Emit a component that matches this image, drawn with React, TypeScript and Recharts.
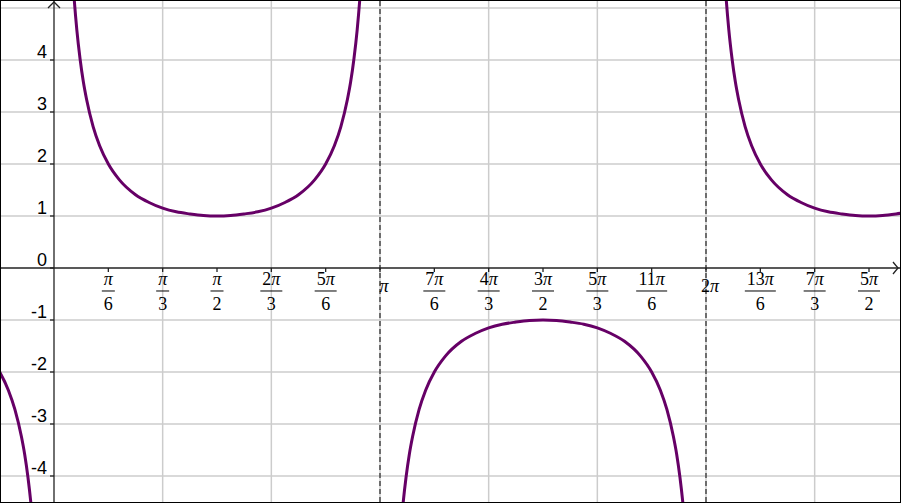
import {
  LineChart, Line, XAxis, YAxis, ReferenceLine, ReferenceDot,
} from "recharts";

document.body.style.margin = "0";

// x values are in multiples of π
const gridX = [1 / 3, 2 / 3, 1, 4 / 3, 5 / 3, 2, 7 / 3];
const gridY = [-4, -3, -2, -1, 1, 2, 3, 4, 5];

const xTicks = [1 / 6, 1 / 3, 1 / 2, 2 / 3, 5 / 6, 1, 7 / 6, 4 / 3, 3 / 2, 5 / 3, 11 / 6, 2, 13 / 6, 7 / 3, 5 / 2];
const tickNum = ["π", "π", "π", "2π", "5π", "π", "7π", "4π", "3π", "5π", "11π", "2π", "13π", "7π", "5π"];
const tickDen = ["6", "3", "2", "3", "6", "", "6", "3", "2", "3", "6", "", "6", "3", "2"];
const yTicks = [-4, -3, -2, -1, 0, 1, 2, 3, 4];
const asymptotes = [1, 2];

// curve, branch by branch
const leftX = [-0.2, -0.1667, -0.14, -0.12, -0.1, -0.09, -0.08, -0.07, -0.06, -0.05];
const leftY = [-1.7, -2.0, -2.35, -2.72, -3.24, -3.58, -4.02, -4.58, -5.34, -6.39];

const firstX = [0.05, 0.06, 0.07, 0.08, 0.09, 0.1, 0.12, 0.14, 0.1667, 0.2, 0.25, 0.2917, 0.3333, 0.375, 0.4167, 0.4583, 0.5,
  0.5417, 0.5833, 0.625, 0.6667, 0.7083, 0.75, 0.8, 0.8333, 0.86, 0.88, 0.9, 0.91, 0.92, 0.93, 0.94, 0.95];
const firstY = [6.39, 5.34, 4.58, 4.02, 3.58, 3.24, 2.72, 2.35, 2.0, 1.7, 1.41, 1.26, 1.15, 1.08, 1.04, 1.01, 1.0,
  1.01, 1.04, 1.08, 1.15, 1.26, 1.41, 1.7, 2.0, 2.35, 2.72, 3.24, 3.58, 4.02, 4.58, 5.34, 6.39];

const secondX = [1.05, 1.06, 1.07, 1.08, 1.09, 1.1, 1.12, 1.14, 1.1667, 1.2, 1.25, 1.2917, 1.3333, 1.375, 1.4167, 1.4583, 1.5,
  1.5417, 1.5833, 1.625, 1.6667, 1.7083, 1.75, 1.8, 1.8333, 1.86, 1.88, 1.9, 1.91, 1.92, 1.93, 1.94, 1.95];
const secondY = [-6.39, -5.34, -4.58, -4.02, -3.58, -3.24, -2.72, -2.35, -2.0, -1.7, -1.41, -1.26, -1.15, -1.08, -1.04, -1.01, -1.0,
  -1.01, -1.04, -1.08, -1.15, -1.26, -1.41, -1.7, -2.0, -2.35, -2.72, -3.24, -3.58, -4.02, -4.58, -5.34, -6.39];

const thirdX = [2.05, 2.06, 2.07, 2.08, 2.09, 2.1, 2.12, 2.14, 2.1667, 2.2, 2.25, 2.2917, 2.3333, 2.375, 2.4167, 2.4583, 2.5, 2.5417, 2.5833, 2.625];
const thirdY = [6.39, 5.34, 4.58, 4.02, 3.58, 3.24, 2.72, 2.35, 2.0, 1.7, 1.41, 1.26, 1.15, 1.08, 1.04, 1.01, 1.0, 1.01, 1.04, 1.08];

const X_MIN = -0.16258;
const X_MAX = 2.59509;
const Y_MIN = -4.5;
const Y_MAX = 5.1346;

const zip = (xs: number[], ys: number[]) => xs.map((x, i) => ({ x, y: ys[i] }));
const branches = [zip(leftX, leftY), zip(firstX, firstY), zip(secondX, secondY), zip(thirdX, thirdY)];

const SERIF = "'Liberation Serif', 'DejaVu Serif', serif";
const SANS = "'Liberation Sans', Arial, sans-serif";
const CURVE = "#660066";
const AXIS = "#222";
const GRID = "#cccccc";

const PiText = ({ s }: { s: string }) => {
  const digits = s.replace("π", "");
  return (
    <>
      {digits && <tspan>{digits}</tspan>}
      <tspan fontStyle="italic">π</tspan>
    </>
  );
};

const XTick = ({ cx, cy, num, den }: any) => {
  const w = 13 + 9 * (num.length - 1);
  return (
    <g>
      <line x1={cx} x2={cx} y1={cy} y2={cy + 4} stroke={AXIS} strokeWidth={1.3} />
      {den ? (
        <>
          <text x={cx} y={cy + 17} textAnchor="middle" fontSize={18} fontFamily={SERIF} fill="#000">
            <PiText s={num} />
          </text>
          <line x1={cx - w / 2} x2={cx + w / 2} y1={cy + 23} y2={cy + 23} stroke="#000" strokeWidth={1} />
          <text x={cx} y={cy + 42} textAnchor="middle" fontSize={18} fontFamily={SERIF} fill="#000">{den}</text>
        </>
      ) : (
        <text x={cx + 4} y={cy + 24} textAnchor="middle" fontSize={18} fontFamily={SERIF} fill="#000">
          <PiText s={num} />
        </text>
      )}
    </g>
  );
};

const YTick = ({ cx, cy, value }: any) => (
  <g>
    <line x1={cx - 4} x2={cx} y1={cy} y2={cy} stroke={AXIS} strokeWidth={1.3} />
    <text x={cx - 7} y={cy - 2} textAnchor="end" fontSize={18} fontFamily={SANS} fill="#000">{value}</text>
  </g>
);

const App = () => {
  return (
    <div style={{ width: 901, height: 503, border: "1px solid #000", boxSizing: "border-box", background: "#fff" }}>
      <LineChart width={899} height={501} margin={{ top: 0, right: 0, bottom: 0, left: 0 }}>
        <XAxis
          type="number"
          dataKey="x"
          domain={[X_MIN, X_MAX]}
          allowDataOverflow
          tick={false}
          tickLine={false}
          axisLine={false}
          height={0}
        />
        <YAxis
          type="number"
          domain={[Y_MIN, Y_MAX]}
          allowDataOverflow
          tick={false}
          tickLine={false}
          axisLine={false}
          width={0}
        />

        {/* grid */}
        {gridX.map(g => (
          <ReferenceLine key={`gx${g}`} x={g} stroke={GRID} strokeWidth={1.5} />
        ))}
        {gridY.map(g => (
          <ReferenceLine key={`gy${g}`} y={g} stroke={GRID} strokeWidth={1.5} />
        ))}

        {asymptotes.map(a => (
          <ReferenceLine key={a} x={a} stroke="#333" strokeWidth={1.3} strokeDasharray="5 3" />
        ))}
        <ReferenceLine y={0} stroke={AXIS} strokeWidth={1.3} />
        <ReferenceLine x={0} stroke={AXIS} strokeWidth={1.3} />

        {branches.map((b, i) => (
          <Line
            key={i}
            data={b}
            dataKey="y"
            type="monotone"
            stroke={CURVE}
            strokeWidth={3}
            dot={false}
            isAnimationActive={false}
          />
        ))}

        {xTicks.map((t, i) => (
          <ReferenceDot
            key={`xt${i}`}
            x={t}
            y={0}
            ifOverflow="visible"
            shape={(p: any) => <XTick {...p} num={tickNum[i]} den={tickDen[i]} />}
          />
        ))}
        {yTicks.map(v => (
          <ReferenceDot
            key={`yt${v}`}
            x={0}
            y={v}
            ifOverflow="visible"
            shape={(p: any) => <YTick {...p} value={v} />}
          />
        ))}

        {/* axis arrowheads */}
        <ReferenceDot
          x={0}
          y={Y_MAX}
          ifOverflow="visible"
          shape={(p: any) => (
            <polyline points={`${p.cx - 6},${p.cy + 7} ${p.cx},${p.cy + 1} ${p.cx + 6},${p.cy + 7}`} fill="none" stroke={AXIS} strokeWidth={1.3} />
          )}
        />
        <ReferenceDot
          x={X_MAX}
          y={0}
          ifOverflow="visible"
          shape={(p: any) => (
            <polyline points={`${p.cx - 7},${p.cy - 6} ${p.cx - 2},${p.cy} ${p.cx - 7},${p.cy + 6}`} fill="none" stroke={AXIS} strokeWidth={1.3} />
          )}
        />
      </LineChart>
    </div>
  );
};

export default App;
